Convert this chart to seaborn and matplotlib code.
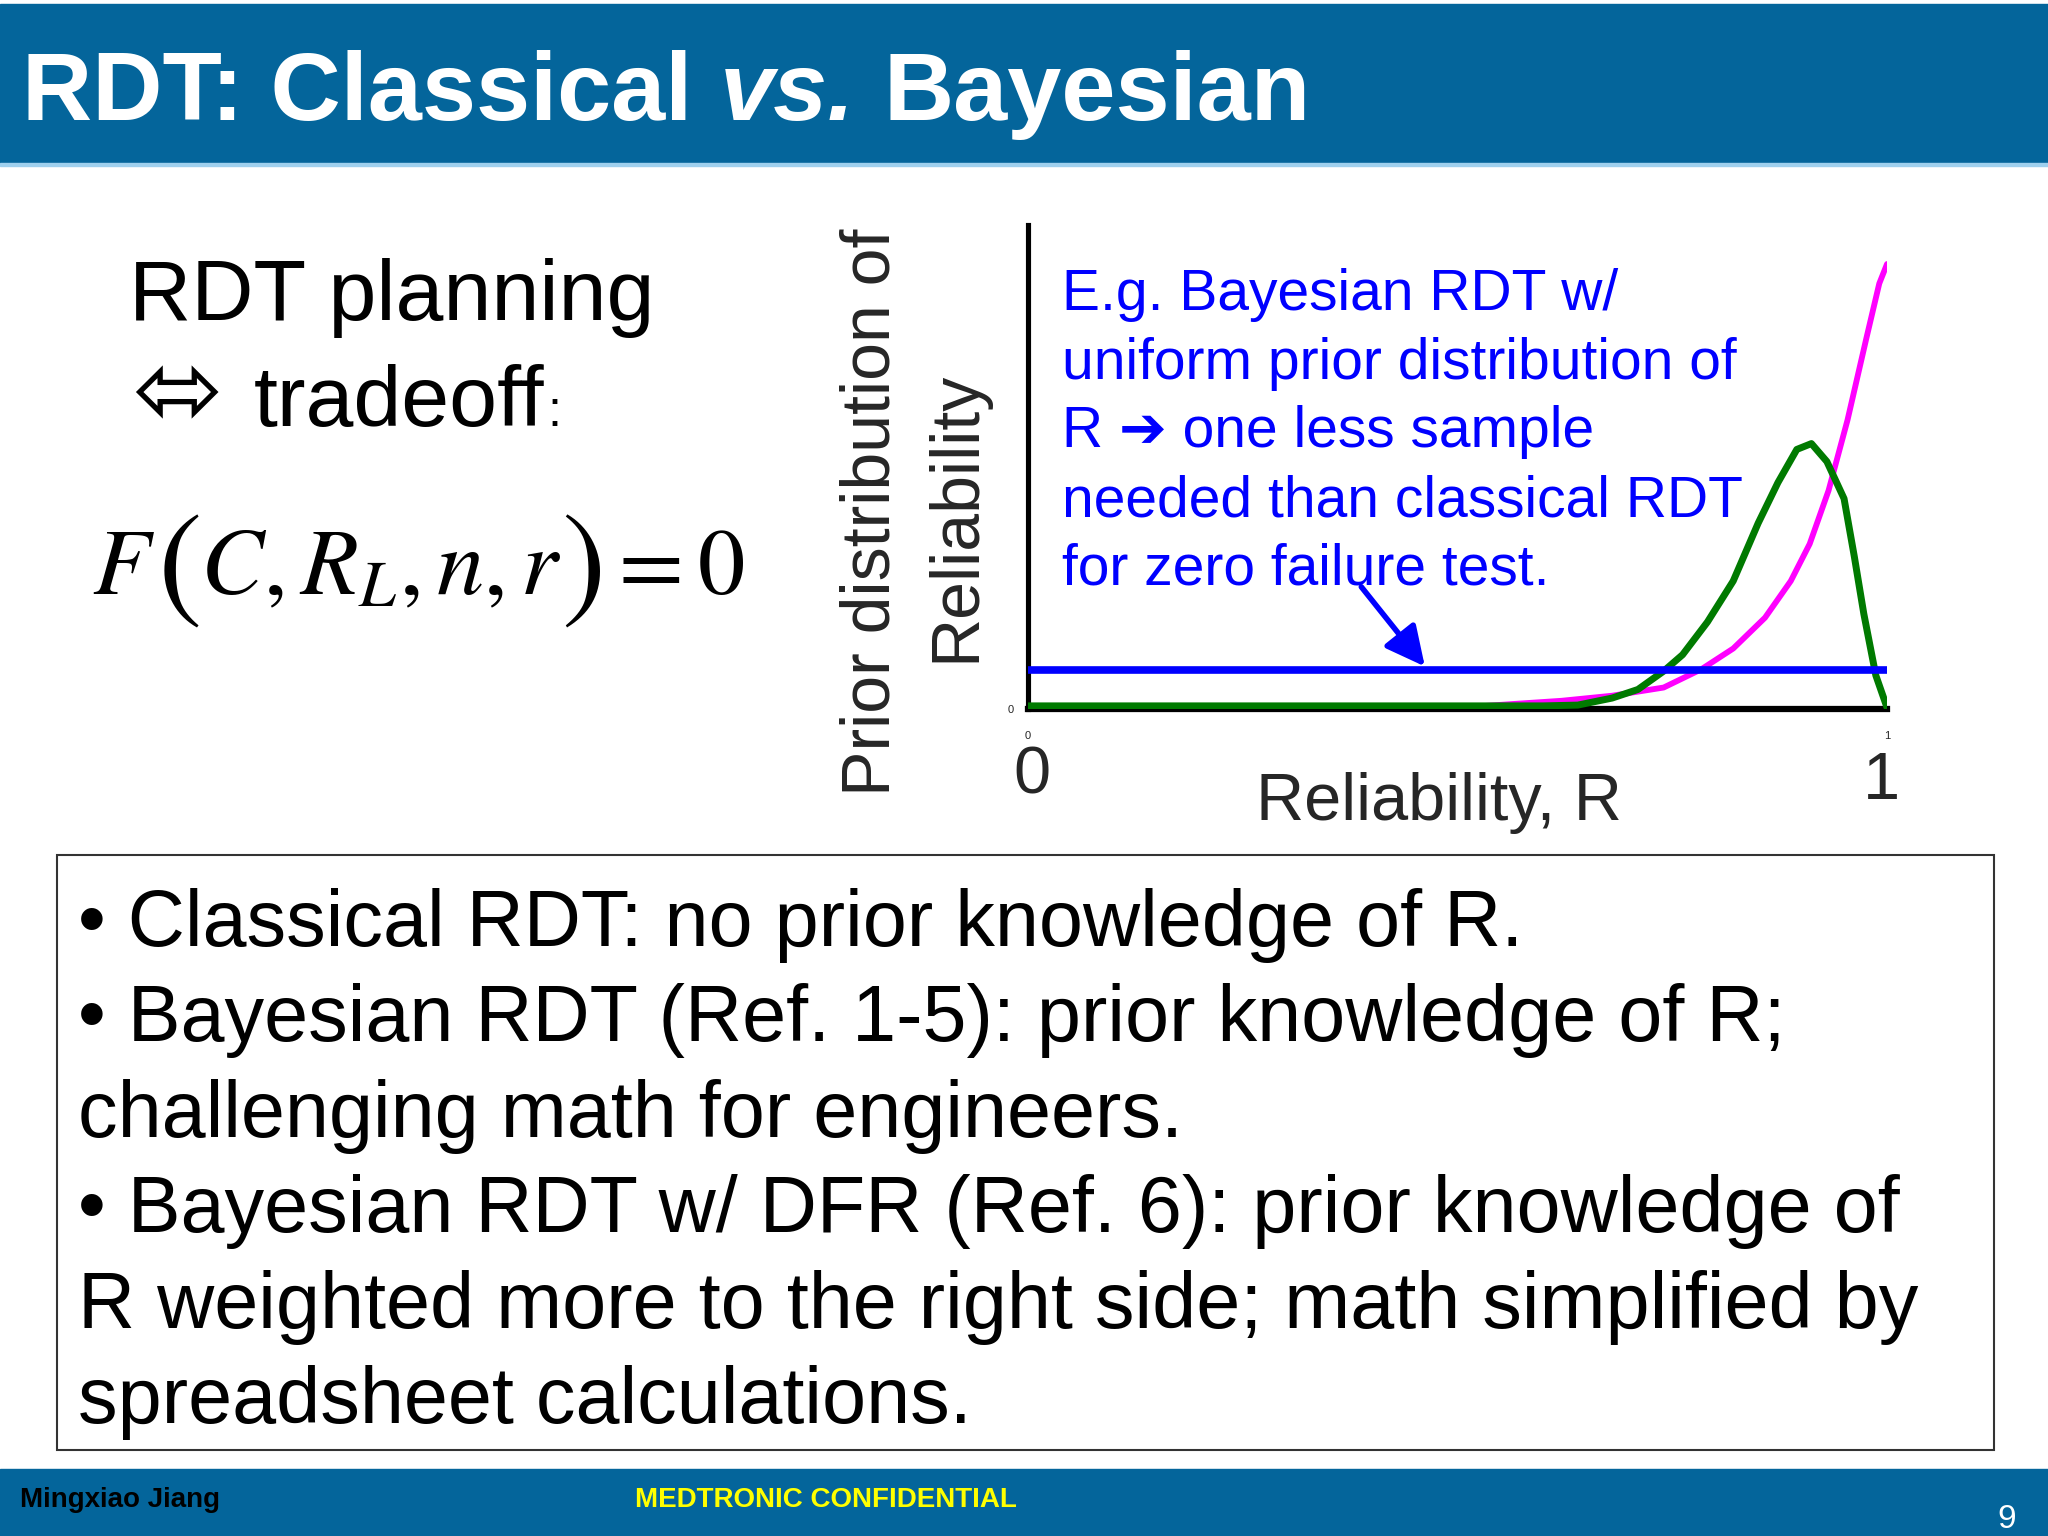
import matplotlib
matplotlib.use("Agg")
import matplotlib.pyplot as plt
import seaborn as sns
from matplotlib.patches import Rectangle

sns.set_theme(style="white")
plt.rcParams['font.family'] = ['Liberation Sans', 'DejaVu Sans']

# Prior densities (R, density)
pink_r = [0.0, 0.30, 0.50, 0.566, 0.621, 0.68, 0.74, 0.784, 0.821, 0.858, 0.888, 0.91, 0.932, 0.954, 0.976, 0.991, 1.0]
pink_d = [0.0, 0.0, 0.03, 0.13, 0.21, 0.34, 0.55, 1.02, 1.55, 2.34, 3.28, 4.23, 5.6, 7.4, 9.5, 10.9, 11.4]

green_r = [0.0, 0.55, 0.60, 0.64, 0.68, 0.71, 0.74, 0.762, 0.791, 0.821, 0.85, 0.873, 0.895, 0.912, 0.93, 0.95, 0.962, 0.973, 0.987, 1.0]
green_d = [0.08, 0.08, 0.08, 0.1, 0.28, 0.5, 0.97, 1.39, 2.23, 3.28, 4.76, 5.8, 6.65, 6.8, 6.34, 5.39, 3.9, 2.44, 0.86, 0.04]

blue_r = [0.0, 1.0]
blue_d = [1.0, 1.0]

note_lines = ["E.g. Bayesian RDT w/",
              "uniform prior distribution of",
              "R \u2794 one less sample",
              "needed than classical RDT",
              "for zero failure test."]

box_lines = ["\u2022 Classical RDT: no prior knowledge of R.",
             "\u2022 Bayesian RDT (Ref. 1-5): prior knowledge of R;",
             "challenging math for engineers.",
             "\u2022 Bayesian RDT w/ DFR (Ref. 6): prior knowledge of",
             "R weighted more to the right side; math simplified by",
             "spreadsheet calculations."]

W, H = 2048, 1536
BAR = '#04659b'
fig = plt.figure(figsize=(20.48, 15.36), dpi=100)
renderer = fig.canvas.get_renderer()


def px(x, y):
    return x / W, 1 - y / H


# header / footer bands
fig.patches.append(Rectangle(px(0, 163), 1, 159 / H, transform=fig.transFigure, color=BAR, zorder=0))
fig.patches.append(Rectangle(px(0, 166), 1, 3 / H, transform=fig.transFigure, color='#9fd0ee', zorder=0))
fig.patches.append(Rectangle(px(0, 1536), 1, 67 / H, transform=fig.transFigure, color=BAR, zorder=0))

# title with italic "vs."
t = fig.text(*px(22, 120), "RDT: Classical", color='white', fontsize=70, fontweight='bold', va='baseline')
x1 = t.get_window_extent(renderer).x1 + 28
t = fig.text(x1 / W, 1 - 120 / H, "vs.", color='white', fontsize=70, fontweight='bold',
             fontstyle='italic', va='baseline')
x1 = t.get_window_extent(renderer).x1 + 28
fig.text(x1 / W, 1 - 120 / H, "Bayesian", color='white', fontsize=70, fontweight='bold', va='baseline')

# footer
fig.text(*px(20, 1507), "Mingxiao Jiang", color='black', fontsize=20, fontweight='bold', va='baseline')
fig.text(*px(635, 1507), "MEDTRONIC CONFIDENTIAL", color='#ffff00', fontsize=20, fontweight='bold', va='baseline')
fig.text(*px(2007, 1528), "9", color='white', fontsize=24, ha='center', va='baseline')

# left side text
fig.text(*px(129, 320), "RDT planning", fontsize=62, color='black', va='baseline')
fig.text(*px(132, 426), "\u2b04", fontsize=78, color='black', va='baseline', family=['DejaVu Sans'])
t = fig.text(*px(254, 426), "tradeoff", fontsize=62, color='black', va='baseline')
x1 = t.get_window_extent(renderer).x1 + 3
fig.text(x1 / W, 1 - 426 / H, ":", fontsize=36, color='black', va='baseline')

# equation, pieced together so the brackets can be taller
pieces = [(r'$F$', 68, 594, 2), (r'$($', 96, 604, 0), (r'$C,R_L,n,r$', 68, 594, 0),
          (r'$)$', 96, 604, 4), (r'$=0$', 68, 594, 0)]
x = 92
for s, size, base, gap in pieces:
    t = fig.text(x / W, 1 - base / H, s, fontsize=size, color='black', va='baseline',
                 math_fontfamily='stix')
    x = t.get_window_extent(renderer).x1 + gap

# chart
ax = fig.add_axes([1028 / W, 1 - 709 / H, 859 / W, 484 / H])
sns.lineplot(x=pink_r, y=pink_d, ax=ax, color='#ff00ff', lw=4.2, zorder=3)
sns.lineplot(x=green_r, y=green_d, ax=ax, color='#007a00', lw=5.0, zorder=3)
sns.lineplot(x=blue_r, y=blue_d, ax=ax, color='#0000ff', lw=5.5, zorder=3)
ax.set_xlim(0, 1)
ax.set_ylim(0, 12.4)
for side in ['top', 'right']:
    ax.spines[side].set_visible(False)
ax.spines['left'].set_linewidth(3.7)
ax.spines['bottom'].set_linewidth(4.5)
ax.spines['left'].set_color('black')
ax.spines['bottom'].set_color('black')
ax.set_xticks([0, 1])
ax.set_xticklabels(['0', '1'])
ax.set_yticks([0])
ax.set_yticklabels(['0'])
ax.tick_params(axis='x', length=0, labelsize=8, pad=16)
ax.tick_params(axis='y', length=0, labelsize=8, pad=10)
ax.grid(False)
ax.set_facecolor('none')

ax.annotate('', xy=(0.462, 1.09), xytext=(0.388, 3.13),
            arrowprops=dict(arrowstyle='-|>', color='#0000ff', lw=4, mutation_scale=60,
                            shrinkA=0, shrinkB=0), zorder=4)

for i, line in enumerate(note_lines):
    fig.text(*px(1062, 310 + i * 68.7), line, fontsize=41, color='#0000ff', va='baseline',
             family=['Liberation Sans', 'DejaVu Sans'])

# axis labels drawn as slide text
fig.text(*px(872, 512), "Prior distribution of", fontsize=49, rotation=90, ha='center', va='center')
fig.text(*px(956, 516), "Reliability", fontsize=49, rotation=90, ha='center', va='center')
fig.text(*px(1032, 793), "0", fontsize=48, ha='center', va='baseline')
fig.text(*px(1881, 799), "1", fontsize=48, ha='center', va='baseline')
fig.text(*px(1439, 820), "Reliability, R", fontsize=48, ha='center', va='baseline')

# bottom box
fig.patches.append(Rectangle(px(57, 1450), (1994 - 57) / W, (1450 - 855) / H, transform=fig.transFigure,
                             fill=False, edgecolor='#333333', lw=1.5))
for i, line in enumerate(box_lines):
    fig.text(*px(78, 946 + i * 95.4), line, fontsize=57, color='black', va='baseline')

fig.savefig('out.png', dpi=100)
